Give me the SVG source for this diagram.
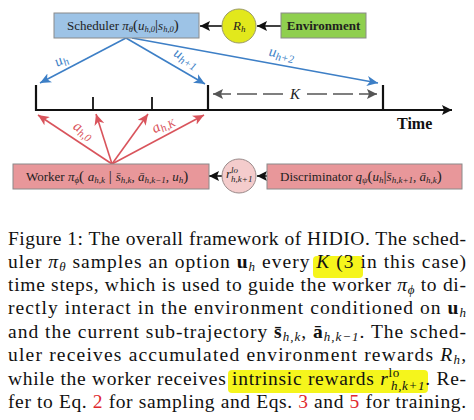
<svg xmlns="http://www.w3.org/2000/svg" width="474" height="420" viewBox="0 0 474 420">
<style>
.box{stroke:#8a8a8a;stroke-width:1}
.lbl{font-family:"Liberation Serif","DejaVu Serif",serif;font-size:13px;fill:#1e1e1e}
.it{font-style:italic}
.blue{stroke:#3d7fc6;stroke-width:1.6;fill:none}
.red{stroke:#d9545c;stroke-width:1.6;fill:none}
.blk{stroke:#111;stroke-width:1.6;fill:none}
.bluet{font-family:"Liberation Serif","DejaVu Serif",serif;font-style:italic;fill:#3d7fc6;font-size:15px}
.redt{font-family:"Liberation Serif","DejaVu Serif",serif;font-style:italic;fill:#d9545c;font-size:15px}
.cap{font-family:"Liberation Serif","Times New Roman",serif;font-size:19.5px;fill:#111}
.hl{fill:#f5f51c}
</style>
<defs>
<marker id="ab" markerUnits="userSpaceOnUse" markerWidth="12" markerHeight="10" refX="11" refY="5" orient="auto"><path d="M0,0 L11,5 L0,10 L3,5 Z" fill="#3d7fc6"/></marker>
<marker id="ar" markerUnits="userSpaceOnUse" markerWidth="12" markerHeight="10" refX="11" refY="5" orient="auto"><path d="M0,0 L11,5 L0,10 L3,5 Z" fill="#d9545c"/></marker>
<marker id="ak" markerUnits="userSpaceOnUse" markerWidth="12" markerHeight="10" refX="10" refY="5" orient="auto"><path d="M0,0 L10,5 L0,10 L2,5 Z" fill="#111"/></marker>
<marker id="ag" markerUnits="userSpaceOnUse" markerWidth="12" markerHeight="10" refX="10" refY="5" orient="auto"><path d="M0,0 L10,5 L0,10 L2,5 Z" fill="#555"/></marker>
</defs>
<rect width="474" height="420" fill="#fff"/>

<g id="connectors">
<line class="blk" x1="281" y1="26" x2="257" y2="26" marker-end="url(#ak)"/>
<line class="blk" x1="222" y1="26" x2="200" y2="26" marker-end="url(#ak)"/>
<line class="blue" x1="126" y1="38" x2="40" y2="83" marker-end="url(#ab)"/>
<line class="blue" x1="126" y1="38" x2="205" y2="84" marker-end="url(#ab)"/>
<line class="blue" x1="132" y1="38" x2="378" y2="83" marker-end="url(#ab)"/>
<line class="red" x1="112" y1="164" x2="38" y2="115" marker-end="url(#ar)"/>
<line class="red" x1="112" y1="164" x2="96" y2="114" marker-end="url(#ar)"/>
<line class="red" x1="112" y1="164" x2="148" y2="114" marker-end="url(#ar)"/>
<line class="red" x1="112" y1="164" x2="204" y2="115" marker-end="url(#ar)"/>
<line class="blk" x1="222" y1="176" x2="209" y2="176" marker-end="url(#ak)"/>
<line class="blk" x1="267" y1="176" x2="257" y2="176" marker-end="url(#ak)"/>
<text class="bluet" transform="translate(63,64) rotate(-27.6)" text-anchor="middle">u<tspan font-size="11" dy="3">h</tspan></text>
<text class="bluet" transform="translate(184,62) rotate(30)" text-anchor="middle">u<tspan font-size="11" dy="3">h+1</tspan></text>
<text class="bluet" transform="translate(281,58) rotate(10.3)" text-anchor="middle">u<tspan font-size="11" dy="3">h+2</tspan></text>
<text class="redt" transform="translate(81,134) rotate(33.5)" text-anchor="middle">a<tspan font-size="11" dy="3">h,0</tspan></text>
<text class="redt" transform="translate(165,128) rotate(-28)" text-anchor="middle">a<tspan font-size="11" dy="3">h,K</tspan></text>
</g>

<g id="timeline">
<line x1="35" y1="110" x2="452" y2="110" stroke="#111" stroke-width="2" marker-end="url(#ak)"/>
<line x1="36" y1="85" x2="36" y2="111" stroke="#111" stroke-width="2.2"/>
<line x1="93" y1="97" x2="93" y2="110" stroke="#111" stroke-width="1.8"/>
<line x1="152" y1="97" x2="152" y2="110" stroke="#111" stroke-width="1.8"/>
<line x1="208" y1="85" x2="208" y2="111" stroke="#111" stroke-width="2.2"/>
<line x1="383" y1="85" x2="383" y2="111" stroke="#111" stroke-width="2.2"/>
<line x1="283" y1="94" x2="213" y2="94" stroke="#555" stroke-width="1.3" stroke-dasharray="20 6" marker-end="url(#ag)"/>
<line x1="307" y1="94" x2="377" y2="94" stroke="#555" stroke-width="1.3" stroke-dasharray="20 6" marker-end="url(#ag)"/>
<text x="295" y="99" text-anchor="middle" font-family="Liberation Serif,serif" font-style="italic" font-size="15" fill="#222">K</text>
<text x="397" y="129" font-family="Liberation Serif,serif" font-weight="bold" font-size="16" fill="#111">Time</text>
</g>

<g id="scheduler">
<rect class="box" x="54" y="13" width="145" height="25" fill="#9dc3e6"/>
<text class="lbl" x="67" y="30">Scheduler <tspan class="it">π</tspan><tspan class="it" font-size="8.5" dy="2">θ</tspan><tspan dy="-2" font-size="15">(</tspan><tspan class="it">u</tspan><tspan class="it" font-size="8.5" dy="2">h,0</tspan><tspan dy="-2" font-size="15">|</tspan><tspan class="it">s</tspan><tspan class="it" font-size="8.5" dy="2">h,0</tspan><tspan dy="-2" font-size="15">)</tspan></text>
</g>

<g id="reward-h">
<circle cx="239" cy="26" r="17" fill="#e2e81c" stroke="#9a9a6a" stroke-width="1"/>
<text class="lbl it" x="233" y="30">R<tspan font-size="9" dy="2">h</tspan></text>
</g>

<g id="environment">
<rect class="box" x="281" y="13" width="85" height="25" fill="#8fcf4f"/>
<text class="lbl" x="323.5" y="30" text-anchor="middle" font-weight="bold">Environment</text>
</g>

<g id="worker">
<rect class="box" x="13" y="164" width="196" height="25" fill="#e8979a"/>
<text class="lbl" x="26" y="181">Worker <tspan class="it">π</tspan><tspan class="it" font-size="9" dy="2">ϕ</tspan><tspan dy="-2" font-size="15">( </tspan><tspan class="it">a</tspan><tspan class="it" font-size="9" dy="2">h,k</tspan><tspan dy="-2" font-size="15"> | </tspan><tspan class="it">s̄</tspan><tspan class="it" font-size="9" dy="2">h,k</tspan><tspan dy="-2">, </tspan><tspan class="it">ā</tspan><tspan class="it" font-size="9" dy="2">h,k−1</tspan><tspan dy="-2">, </tspan><tspan class="it">u</tspan><tspan class="it" font-size="9" dy="2">h</tspan><tspan dy="-2" font-size="15">)</tspan></text>
</g>

<g id="intrinsic-reward">
<circle cx="239" cy="176" r="17" fill="#f4cccc" stroke="#9a8a8a" stroke-width="1"/>
<text class="lbl it" x="226" y="178">r<tspan font-size="9" dy="-5">lo</tspan><tspan font-size="9" dx="-7" dy="9">h,k+1</tspan></text>
</g>

<g id="discriminator">
<rect class="box" x="267" y="164" width="195" height="25" fill="#e8979a"/>
<text class="lbl" x="280" y="181">Discriminator <tspan class="it">q</tspan><tspan class="it" font-size="9" dy="2">ψ</tspan><tspan dy="-2" font-size="15">(</tspan><tspan class="it">u</tspan><tspan class="it" font-size="9" dy="2">h</tspan><tspan dy="-2" font-size="15">|</tspan><tspan class="it">s̄</tspan><tspan class="it" font-size="9" dy="2">h,k+1</tspan><tspan dy="-2">, </tspan><tspan class="it">ā</tspan><tspan class="it" font-size="9" dy="2">h,k</tspan><tspan dy="-2" font-size="15">)</tspan></text>
</g>

<g id="caption">
<rect class="hl" x="313" y="256" width="50" height="22" rx="4"/>
<rect class="hl" x="228" y="370" width="200" height="23" rx="4"/>
<text class="cap" x="8" y="245" textLength="458" lengthAdjust="spacing">Figure 1: The overall framework of HIDIO. The sched-</text>
<text class="cap" x="8" y="268" textLength="458" lengthAdjust="spacing">uler <tspan class="it">π</tspan><tspan class="it" font-size="13" dy="3">θ</tspan><tspan dy="-3"> samples an option </tspan><tspan font-weight="bold">u</tspan><tspan class="it" font-size="13" dy="3">h</tspan><tspan dy="-3"> every </tspan><tspan class="it">K</tspan> (3 in this case)</text>
<text class="cap" x="8" y="291" textLength="458" lengthAdjust="spacing">time steps, which is used to guide the worker <tspan class="it">π</tspan><tspan class="it" font-size="13" dy="3">ϕ</tspan><tspan dy="-3"> to di-</tspan></text>
<text class="cap" x="8" y="314" textLength="458" lengthAdjust="spacing">rectly interact in the environment conditioned on <tspan font-weight="bold">u</tspan><tspan class="it" font-size="13" dy="3">h</tspan></text>
<text class="cap" x="8" y="338" textLength="458" lengthAdjust="spacing">and the current sub-trajectory <tspan font-weight="bold">s̄</tspan><tspan class="it" font-size="13" dy="3">h,k</tspan><tspan dy="-3">, </tspan><tspan font-weight="bold">ā</tspan><tspan class="it" font-size="13" dy="3">h,k−1</tspan><tspan dy="-3">. The sched-</tspan></text>
<text class="cap" x="8" y="361" textLength="458" lengthAdjust="spacing">uler receives accumulated environment rewards <tspan class="it">R</tspan><tspan class="it" font-size="13" dy="3">h</tspan><tspan dy="-3">,</tspan></text>
<text class="cap" x="8" y="385" textLength="458" lengthAdjust="spacing">while the worker receives intrinsic rewards <tspan class="it">r</tspan><tspan font-size="13" dy="-8">lo</tspan><tspan class="it" font-size="13" dx="-9" dy="13">h,k+1</tspan><tspan dy="-5">. Re-</tspan></text>
<text class="cap" x="8" y="408" textLength="458" lengthAdjust="spacing">fer to Eq. <tspan fill="#e0282e">2</tspan> for sampling and Eqs. <tspan fill="#e0282e">3</tspan> and <tspan fill="#e0282e">5</tspan> for training.</text>
</g>
</svg>
